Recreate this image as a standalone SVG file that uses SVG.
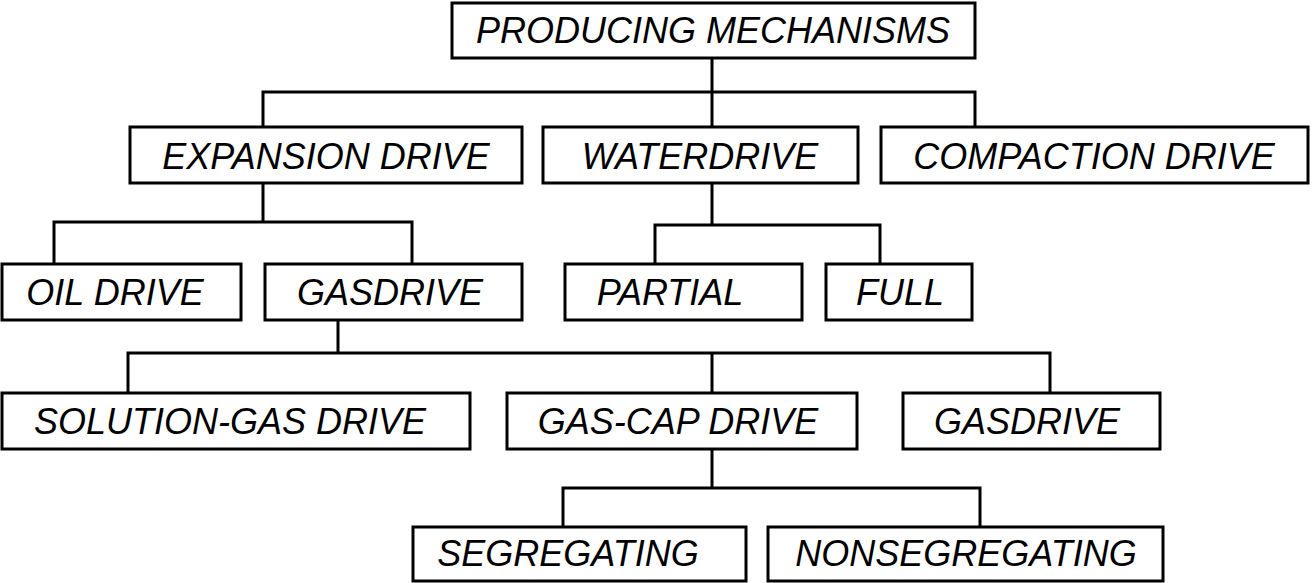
<svg xmlns="http://www.w3.org/2000/svg" width="1313" height="583" viewBox="0 0 1313 583">
<style>
.b{fill:#fff;stroke:#000;stroke-width:3}
text{font-family:"Liberation Sans",Arial,sans-serif;font-style:italic;font-size:36px;text-anchor:middle;fill:#000}
#connectors path{fill:none;stroke:#000;stroke-width:3}
</style>
<rect width="1313" height="583" fill="#fff"/>
<g id="connectors">
<path d="M712 58V127M263 127V92H975V127"/>
<path d="M263 183V222M54 264V222H412V264"/>
<path d="M712 183V225M655 264V225H880V264"/>
<path d="M338 320V353M128 393V353H1050V393M712 353V393"/>
<path d="M712 449V488M563 527V488H980V527"/>
</g>
<g id="n1"><rect class="b" x="452" y="3" width="523" height="55"/><text x="713" y="43">PRODUCING MECHANISMS</text></g>
<g id="n2"><rect class="b" x="130" y="127" width="392" height="56"/><text x="326" y="169">EXPANSION DRIVE</text></g>
<g id="n3"><rect class="b" x="543" y="127" width="315" height="56"/><text x="700" y="169">WATERDRIVE</text></g>
<g id="n4"><rect class="b" x="881" y="127" width="427" height="56"/><text x="1094" y="169">COMPACTION DRIVE</text></g>
<g id="n5"><rect class="b" x="2" y="264" width="239" height="56"/><text x="115" y="305">OIL DRIVE</text></g>
<g id="n6"><rect class="b" x="265" y="264" width="257" height="56"/><text x="390" y="305">GASDRIVE</text></g>
<g id="n7"><rect class="b" x="565" y="264" width="237" height="56"/><text x="670" y="305">PARTIAL</text></g>
<g id="n8"><rect class="b" x="826" y="264" width="146" height="56"/><text x="900" y="305">FULL</text></g>
<g id="n9"><rect class="b" x="2" y="393" width="468" height="56"/><text x="230" y="434">SOLUTION-GAS DRIVE</text></g>
<g id="n10"><rect class="b" x="507" y="393" width="350" height="56"/><text x="678" y="434">GAS-CAP DRIVE</text></g>
<g id="n11"><rect class="b" x="903" y="393" width="257" height="56"/><text x="1027" y="434">GASDRIVE</text></g>
<g id="n12"><rect class="b" x="413" y="527" width="333" height="54"/><text x="568" y="566">SEGREGATING</text></g>
<g id="n13"><rect class="b" x="768" y="527" width="395" height="54"/><text x="966" y="566">NONSEGREGATING</text></g>
</svg>
